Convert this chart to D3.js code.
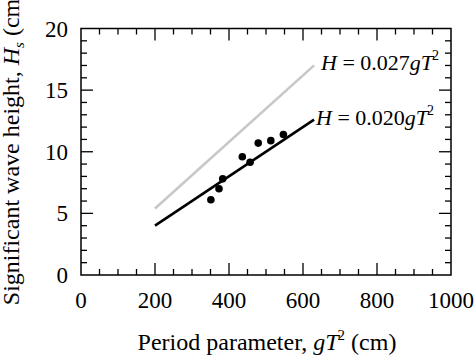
<!DOCTYPE html>
<html><head><meta charset="utf-8">
<script src="https://cdn.jsdelivr.net/npm/d3@7"></script>
<style>body{margin:0;background:#fff}svg{display:block}</style>
</head><body><svg id="c" width="474" height="358" font-family="'Liberation Serif', 'Times New Roman', Times, 'DejaVu Serif', serif"></svg>
<script>
const pointsX = [351, 373, 383, 436, 457, 479, 513, 547];
const pointsY = [6.1, 7.0, 7.8, 9.6, 9.15, 10.7, 10.9, 11.4];
const lineRange = [200, 630];
const coefs = [0.027, 0.020];
const coefLabels = ["0.027", "0.020"];
const lineColors = ["#c8c8c8", "#000"];
const xTicks = [0, 200, 400, 600, 800, 1000];
const yTicks = [0, 5, 10, 15, 20];

const svg = d3.select("#c");
const L = 81, R = 451, T = 28.5, B = 275;
const x = d3.scaleLinear().domain([0, 1000]).range([L, R]);
const y = d3.scaleLinear().domain([0, 20]).range([B, T]);

coefs.forEach((c, i) => {
  svg.append("line")
    .attr("x1", x(lineRange[0])).attr("y1", y(c * lineRange[0]))
    .attr("x2", x(lineRange[1])).attr("y2", y(c * lineRange[1]))
    .attr("stroke", lineColors[i]).attr("stroke-width", 2.6);
});

svg.selectAll("circle").data(pointsX).enter().append("circle")
  .attr("cx", (d) => x(d)).attr("cy", (d, i) => y(pointsY[i]))
  .attr("r", 3.8).attr("fill", "#000");

svg.append("rect").attr("x", L).attr("y", T).attr("width", R - L).attr("height", B - T)
  .attr("fill", "none").attr("stroke", "#000").attr("stroke-width", 1.5);

const g = svg.append("g").attr("stroke", "#000").attr("stroke-width", 1.3);
d3.range(0, 1001, 50).forEach(v => {
  const len = v % 200 === 0 ? 12 : 6;
  if (v === 0 || v === 1000) return;
  g.append("line").attr("x1", x(v)).attr("x2", x(v)).attr("y1", B).attr("y2", B - len);
  g.append("line").attr("x1", x(v)).attr("x2", x(v)).attr("y1", T).attr("y2", T + len);
});
d3.range(0, 21, 1).forEach(v => {
  const len = v % 5 === 0 ? 12 : 6;
  if (v === 0 || v === 20) return;
  g.append("line").attr("y1", y(v)).attr("y2", y(v)).attr("x1", L).attr("x2", L + len);
  g.append("line").attr("y1", y(v)).attr("y2", y(v)).attr("x1", R).attr("x2", R - len);
});

svg.selectAll(".xl").data(xTicks).enter().append("text")
  .attr("x", d => x(d)).attr("y", 308).attr("text-anchor", "middle")
  .attr("font-size", 23).text(d => d);
svg.selectAll(".yl").data(yTicks).enter().append("text")
  .attr("x", 68).attr("y", d => y(d) + 8).attr("text-anchor", "end")
  .attr("font-size", 23).text(d => d);

const eqPos = [[321, 70], [316, 125]];
coefs.forEach((c, i) => {
  const t = svg.append("text").attr("x", eqPos[i][0]).attr("y", eqPos[i][1]).attr("font-size", 22);
  t.append("tspan").attr("font-style", "italic").text("H");
  t.append("tspan").text(" = " + coefLabels[i]);
  t.append("tspan").attr("font-style", "italic").text("gT");
  t.append("tspan").attr("font-size", 14).attr("dy", -10).attr("dx", -1).text("2");
});

const xt = svg.append("text").attr("x", 267).attr("y", 350).attr("text-anchor", "middle").attr("font-size", 24);
xt.append("tspan").text("Period parameter, ");
xt.append("tspan").attr("font-style", "italic").text("gT");
xt.append("tspan").attr("font-size", 15).attr("dy", -10).attr("dx", -1).text("2");
xt.append("tspan").attr("dy", 10).text(" (cm)");

const yt = svg.append("text").attr("transform", "translate(19,148) rotate(-90)")
  .attr("text-anchor", "middle").attr("font-size", 24);
yt.append("tspan").text("Significant wave height, ");
yt.append("tspan").attr("font-style", "italic").text("H");
yt.append("tspan").attr("font-style", "italic").attr("font-size", 15).attr("dy", 5).text("s");
yt.append("tspan").attr("dy", -5).text(" (cm)");
</script></body></html>
